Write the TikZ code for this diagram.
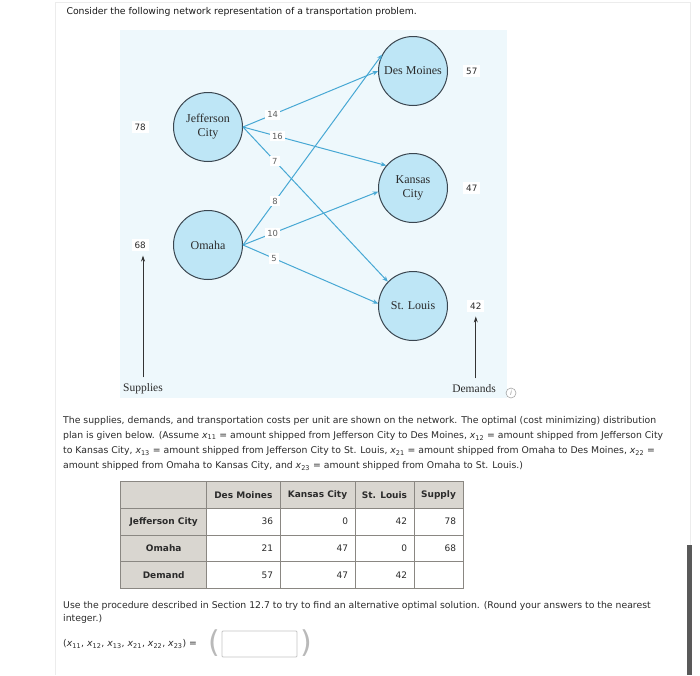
\documentclass[tikz,border=0pt]{standalone}
\usepackage{fontspec}
\setmainfont{DejaVu Sans}
\newfontfamily\figserif{Liberation Serif}
\usepackage{tikz}
\usetikzlibrary{arrows.meta, positioning}

\definecolor{panelbg}{HTML}{EEF8FC}
\definecolor{cityfill}{HTML}{BEE6F6}
\definecolor{cityline}{HTML}{3A4650}
\definecolor{routeblue}{HTML}{47A8D4}
\definecolor{tblhead}{HTML}{D9D6D0}
\definecolor{tblline}{HTML}{8A8782}
\definecolor{bodytext}{HTML}{2B2B2B}

\newcommand{\shipvar}[1]{\textit{x}\textsubscript{#1}}
\newcommand{\bodysize}{\fontsize{9.3}{15}\selectfont}

\begin{document}
\begin{tikzpicture}[
			x=1pt, y=-1pt,
			every node/.style={text=bodytext},
			city/.style={circle, draw=cityline, line width=1pt, fill=cityfill, minimum size=69pt, inner sep=1pt, align=center, font=\figserif\fontsize{12}{14}\selectfont},
			route/.style={-{Stealth[length=5.5pt, width=4.5pt]}, routeblue, line width=1pt},
			cost/.style={fill=white, inner sep=2pt, font=\fontsize{8.4}{10}\selectfont, text=gray!75!black},
			qty/.style={fill=white, inner sep=3pt, font=\fontsize{8.8}{10}\selectfont},
			tag/.style={font=\figserif\fontsize{11.5}{13}\selectfont},
			qline/.style={-{Stealth[length=6pt, width=4pt]}, line width=0.7pt, black!80},
			tblcell/.style={rectangle, draw=tblline, line width=0.8pt, minimum height=26.6pt, inner sep=0pt, font=\fontsize{9}{11}\selectfont},
			headcell/.style={tblcell, fill=tblhead, font=\bfseries\fontsize{9}{11}\selectfont, minimum width=#1},
			numcell/.style={tblcell, fill=white, text width=#1, align=right, inner xsep=7pt}
			]
			
			\useasboundingbox (0,0) rectangle (700,675);
			\fill[white] (0,0) rectangle (700,675);
			\draw[gray!15] (55,675) -- (55,2) -- (690,2) -- (690,545);
			\fill[gray!70!black] (687,545) rectangle (692,675);
			
			\node[anchor=west, font=\bodysize, text=black!90] (title) at (63,12) {Consider the following network representation of a transportation problem.};
			
			% network
			\fill[panelbg] (120,30) rectangle (507,398);
			
			\node[city] (jc) at (208,127) {Jefferson\\City};
			\node[city] (om) at (208,245) {Omaha};
			\node[city] (dm) at (413,71) {Des Moines};
			\node[city] (kc) at (413,188) {Kansas\\City};
			\node[city] (sl) at (413,306) {St. Louis};
			
			\draw[route] (jc.east) -- node[cost, pos=0.22] (c14) {14} (dm.west);
			\draw[route] (jc.east) -- node[cost, pos=0.24] (c16) {16} (kc.140);
			\draw[route] (jc.east) -- node[cost, pos=0.22] (c7) {7} (sl.136);
			\draw[route] (om.east) -- node[cost, pos=0.23] (c8) {8} (dm.152);
			\draw[route] (om.east) -- node[cost, pos=0.22] (c10) {10} (kc.186);
			\draw[route] (om.east) -- node[cost, pos=0.23] (c5) {5} (sl.176);
			
			\node[qty, left=24pt of jc] (s78) {78};
			\node[qty, left=24pt of om] (s68) {68};
			\node[qty, right=15pt of dm] (d57) {57};
			\node[qty, right=15pt of kc] (d47) {47};
			\node[qty, right=19pt of sl] (d42) {42};
			
			\node[tag] (supplies) at (143,389) {Supplies};
			\node[tag] (demands) at (474,389) {Demands};
			\draw[qline, shorten <=3pt, shorten >=4pt] (supplies.north) -- (supplies.north |- s68.south);
			\draw[qline, shorten <=3pt, shorten >=4pt] (demands.north -| d42.south) -- (d42.south);
			
			\node[circle, draw=gray!70, line width=0.6pt, inner sep=0pt, minimum size=10pt, font=\fontsize{7}{7}\selectfont\itshape, text=gray!80] (info) at (511,393) {i};
			
			% problem text
			\node[anchor=north west, align=left, font=\bodysize, inner sep=0pt] (intro) at (63,416) {The supplies, demands, and transportation costs per unit are shown on the network. The optimal (cost minimizing) distribution\\
				plan is given below. (Assume \shipvar{11} = amount shipped from Jefferson City to Des Moines, \shipvar{12} = amount shipped from Jefferson City\\
				to Kansas City, \shipvar{13} = amount shipped from Jefferson City to St. Louis, \shipvar{21} = amount shipped from Omaha to Des Moines, \shipvar{22} =\\
				amount shipped from Omaha to Kansas City, and \shipvar{23} = amount shipped from Omaha to St. Louis.)};
			
			% distribution table
			\node[headcell=86pt] (corner) at (163.7,495) {};
			\node[headcell=73.3pt] (hdm) at (243.35,495) {Des Moines};
			\node[headcell=75pt] (hkc) at (317.5,495) {Kansas City};
			\node[headcell=59pt] (hsl) at (384.5,495) {St. Louis};
			\node[headcell=49pt] (hsup) at (438.5,495) {Supply};
			
			\node[headcell=86pt] (rjc) at (163.7,521.6) {Jefferson City};
			\node[numcell=59.3pt] (jcdm) at (243.35,521.6) {36};
			\node[numcell=61pt] (jckc) at (317.5,521.6) {0};
			\node[numcell=45pt] (jcsl) at (384.5,521.6) {42};
			\node[numcell=35pt] (jcsup) at (438.5,521.6) {78};
			
			\node[headcell=86pt] (rom) at (163.7,548.2) {Omaha};
			\node[numcell=59.3pt] (omdm) at (243.35,548.2) {21};
			\node[numcell=61pt] (omkc) at (317.5,548.2) {47};
			\node[numcell=45pt] (omsl) at (384.5,548.2) {0};
			\node[numcell=35pt] (omsup) at (438.5,548.2) {68};
			
			\node[headcell=86pt] (rdem) at (163.7,574.8) {Demand};
			\node[numcell=59.3pt] (demdm) at (243.35,574.8) {57};
			\node[numcell=61pt] (demkc) at (317.5,574.8) {47};
			\node[numcell=45pt] (demsl) at (384.5,574.8) {42};
			\node[numcell=35pt] (demsup) at (438.5,574.8) {};
			
			\draw[tblline, line width=1.2pt] (corner.north west) rectangle (demsup.south east);
			
			\node[anchor=north west, align=left, font=\fontsize{9.3}{13}\selectfont, inner sep=0pt] (task) at (63,601) {Use the procedure described in Section 12.7 to try to find an alternative optimal solution. (Round your answers to the nearest\\
				integer.)};
			
			\node[anchor=west, font=\bodysize, inner sep=0pt] (tuple) at (63,644) {(\shipvar{11}, \shipvar{12}, \shipvar{13}, \shipvar{21}, \shipvar{22}, \shipvar{23}) =};
			\node[font=\fontsize{30}{30}\selectfont, text=gray!55, inner sep=0pt] (lpar) at (214,643) {(};
			\node[draw=gray!45, line width=0.8pt, rounded corners=1pt, minimum width=75pt, minimum height=26pt] (answer) at (259.5,644) {};
			\node[font=\fontsize{30}{30}\selectfont, text=gray!55, inner sep=0pt] (rpar) at (306,643) {)};
		\end{tikzpicture}
\end{document}
